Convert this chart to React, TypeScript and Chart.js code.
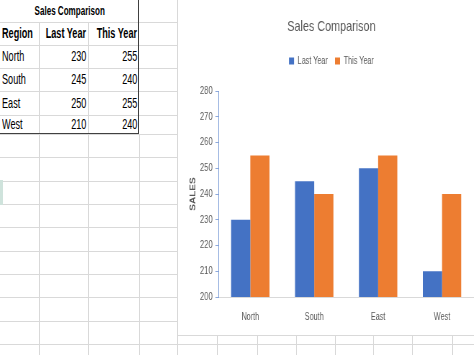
import React, { useEffect, useRef } from "react";
import { Chart, registerables } from "chart.js";

Chart.register(...registerables);

// ---- data ----
const chartTitle = "Sales Comparison";
const regions = ["North", "South", "East", "West"];
const seriesNames = ["Last Year", "This Year"];
const lastYear = [230, 245, 250, 210];
const thisYear = [255, 240, 255, 240];
const yMin = 200;
const yMax = 280;
const yStep = 10;
const yAxisTitle = "SALES";
const tableHeader = ["Region", "Last Year", "This Year"];

// ---- styles ----
const SANS = '"Liberation Sans", Arial, sans-serif';
const GRID = "#d9d9d9";
const TEXT = "#595959";
const BLUE = "#4472C4";
const ORANGE = "#ED7D31";

// horizontal squeeze of the chart canvas (screenshot text is narrow)
const SQ = 0.72;
const CW = 296; // displayed width
const CH = 335;
const IW = Math.round(CW / SQ); // internal width

// spreadsheet decoration positions
const colLines = [39, 88];
const rowLinesTop = [22, 45, 68, 91, 115];
const rowLinesBottom = [134, 157, 181, 204, 227, 251, 274, 297, 321, 344];
const lowerCols = [217, 257, 296, 335, 373, 412, 452];
const rowTops = [22, 45, 68, 91, 115];
const rowHeights = [23, 23, 23, 24, 19];

const legendSpacer = {
  id: "legendSpacer",
  beforeInit(chart: any) {
    const orig = chart.legend.fit;
    chart.legend.fit = function fit() {
      orig.call(this);
      this.height += 15;
    };
  },
};

function SalesChart() {
  const ref = useRef<HTMLCanvasElement | null>(null);
  useEffect(() => {
    if (!ref.current) return;
    const chart = new Chart(ref.current, {
      type: "bar",
      data: {
        labels: regions,
        datasets: [
          {
            label: seriesNames[0],
            data: lastYear,
            backgroundColor: BLUE,
            categoryPercentage: 0.6,
            barPercentage: 1,
          },
          {
            label: seriesNames[1],
            data: thisYear,
            backgroundColor: ORANGE,
            categoryPercentage: 0.6,
            barPercentage: 1,
          },
        ],
      },
      options: {
        responsive: false,
        animation: false,
        devicePixelRatio: 1,
        layout: { padding: { left: 15, right: 0, top: 0, bottom: 0 } },
        plugins: {
          title: {
            display: true,
            text: chartTitle,
            color: TEXT,
            font: { family: SANS, size: 15, weight: "normal" },
            padding: { top: 18, bottom: 10 },
          },
          legend: {
            display: true,
            position: "top",
            labels: {
              boxWidth: 7,
              boxHeight: 7,
              color: TEXT,
              padding: 10,
              font: { family: SANS, size: 10 },
            },
          },
          tooltip: { enabled: false },
        },
        scales: {
          x: {
            grid: { display: true, drawOnChartArea: false, drawTicks: false, color: "transparent" },
            border: { display: true, color: GRID, width: 1 },
            ticks: { color: TEXT, font: { family: SANS, size: 10 }, padding: 14 },
            afterFit: (axis: any) => {
              axis.height = 38;
            },
          },
          y: {
            min: yMin,
            max: yMax,
            grid: {
              display: true,
              drawOnChartArea: false,
              drawTicks: true,
              tickLength: 4,
              color: "#8EA9DB",
            },
            border: { display: true, color: "#7F9FD8", width: 1 },
            ticks: {
              stepSize: yStep,
              color: TEXT,
              padding: 4,
              font: { family: SANS, size: 10.5 },
            },
            title: {
              display: true,
              text: yAxisTitle,
              color: TEXT,
              padding: 0,
              font: { family: SANS, size: 10, weight: "bold" },
            },
            afterFit: (axis: any) => {
              axis.width = 41;
            },
          },
        },
      },
      plugins: [legendSpacer],
    } as any);
    return () => chart.destroy();
  }, []);
  return (
    <canvas
      ref={ref}
      width={IW}
      height={CH}
      style={{ display: "block", width: CW + "px", height: CH + "px" }}
    />
  );
}

function Cell(props: {
  text: string | number;
  left?: number;
  right?: number;
  origin: string;
}) {
  const pos: React.CSSProperties = { position: "absolute", top: 0 };
  if (props.left !== undefined) pos.left = props.left;
  if (props.right !== undefined) pos.right = props.right;
  return (
    <span style={pos}>
      <span
        style={{
          display: "inline-block",
          transform: "scaleX(0.65)",
          transformOrigin: props.origin,
          whiteSpace: "nowrap",
        }}
      >
        {props.text}
      </span>
    </span>
  );
}

export default function App() {
  const line = (style: React.CSSProperties, key: string) => (
    <div key={key} style={{ position: "absolute", background: GRID, ...style }} />
  );
  const rows = regions.map((r, i) => [r, lastYear[i], thisYear[i]]);
  return (
    <div
      style={{
        position: "fixed",
        left: 0,
        top: 0,
        width: 474,
        height: 355,
        overflow: "hidden",
        background: "#fff",
        fontFamily: SANS,
      }}
    >
      {/* spreadsheet grid */}
      {colLines.map((x, i) => line({ left: x, top: 22, width: 1, height: 333 }, "c" + i))}
      {line({ left: 139, top: 134, width: 1, height: 221 }, "c139")}
      {line({ left: 177, top: 0, width: 1, height: 355 }, "c177")}
      {rowLinesTop.map((y, i) => line({ left: 0, top: y, width: 177, height: 1 }, "rt" + i))}
      {rowLinesBottom.map((y, i) =>
        line({ left: 0, top: y, width: i === rowLinesBottom.length - 1 ? 474 : 177, height: 1 }, "rb" + i)
      )}
      {lowerCols.map((x, i) => line({ left: x, top: 335, width: 1, height: 20 }, "lc" + i))}
      <div style={{ position: "absolute", left: 0, top: 180, width: 3, height: 25, background: "#cfe3dc" }} />

      {/* table */}
      <div
        style={{
          position: "absolute",
          left: 0,
          top: 0,
          width: 138,
          height: 133,
          borderRight: "1.5px solid #404040",
          borderBottom: "1.5px solid #404040",
        }}
      />
      <div
        style={{
          position: "absolute",
          left: 0,
          top: 0,
          width: 139,
          height: 22,
          lineHeight: "22px",
          textAlign: "center",
          fontWeight: "bold",
          fontSize: 13,
          color: "#000",
        }}
      >
        <span
          style={{
            display: "inline-block",
            transform: "scaleX(0.62)",
            transformOrigin: "center",
            whiteSpace: "nowrap",
          }}
        >
          {chartTitle}
        </span>
      </div>
      {[tableHeader, ...rows].map((row, ri) => (
        <div
          key={"row" + ri}
          style={{
            position: "absolute",
            left: 0,
            top: rowTops[ri],
            width: 139,
            height: rowHeights[ri],
            lineHeight: rowHeights[ri] + "px",
            fontSize: 14,
            fontWeight: ri === 0 ? "bold" : "normal",
            color: "#000",
          }}
        >
          <Cell text={row[0]} left={2} origin="left" />
          <Cell text={row[1]} right={139 - 86} origin="right" />
          <Cell text={row[2]} right={2} origin="right" />
        </div>
      ))}

      {/* chart */}
      <div
        style={{
          position: "absolute",
          left: 178,
          top: 0,
          width: CW,
          height: CH,
          background: "#fff",
          borderBottom: "1px solid " + GRID,
        }}
      >
        <SalesChart />
      </div>
    </div>
  );
}
